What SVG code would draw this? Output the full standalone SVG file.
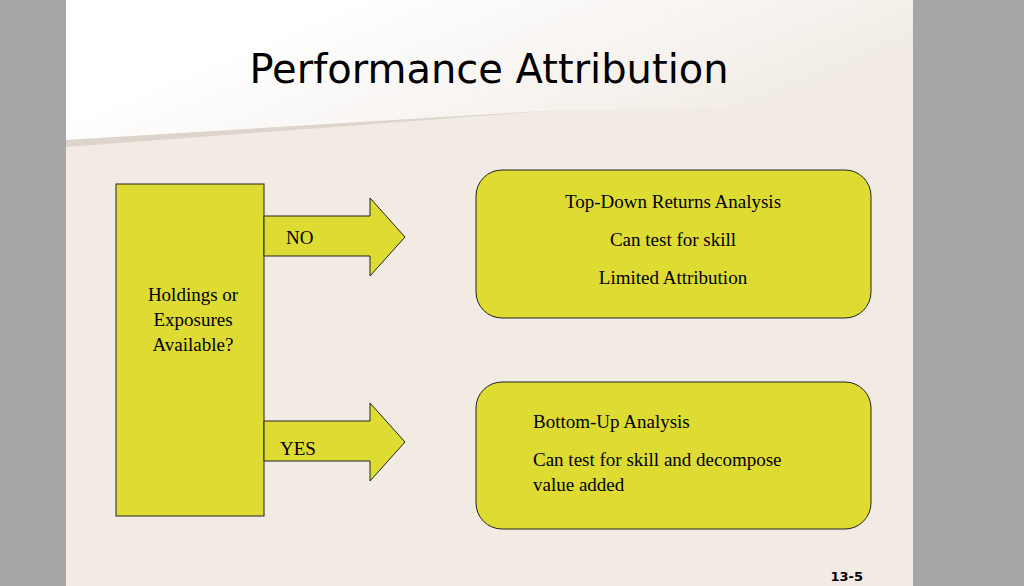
<svg xmlns="http://www.w3.org/2000/svg" width="1024" height="586" viewBox="0 0 1024 586">
<defs>
<linearGradient id="bg" x1="0" y1="0" x2="1" y2="0.4">
<stop offset="0.3" stop-color="#ffffff"/><stop offset="1" stop-color="#f1ebe4"/>
</linearGradient>
<style>
.sh{fill:#dedc32;stroke:#222;stroke-width:1}
.t{font-family:"Liberation Serif",serif;font-size:19px;fill:#000}
</style>
</defs>
<rect width="1024" height="586" fill="#a6a6a6"/>
<rect x="66" y="0" width="847" height="586" fill="#f1ebe4"/>
<path d="M66 0H913V108L560 110L66 140Z" fill="url(#bg)"/>
<path d="M66 140L560 110L66 147Z" fill="#ddd5cc"/>
<text x="489" y="83" text-anchor="middle" font-family="DejaVu Sans,sans-serif" font-size="40" fill="#000">Performance Attribution</text>
<g id="holdings"><rect class="sh" x="116" y="184" width="148" height="332"/>
<text class="t" text-anchor="middle"><tspan x="193" y="301">Holdings or</tspan><tspan x="193" y="326">Exposures</tspan><tspan x="193" y="351">Available?</tspan></text></g>
<g id="connectors">
<g id="no"><path class="sh" d="M264 216H370V198L405 237L370 276V256H264Z"/><text class="t" x="286" y="244">NO</text></g>
<g id="yes"><path class="sh" d="M264 421H370V403L405 442L370 481V461H264Z"/><text class="t" x="280" y="455">YES</text></g>
</g>
<g id="topdown"><rect class="sh" x="476" y="170" width="395" height="148" rx="26"/>
<text class="t" text-anchor="middle"><tspan x="673" y="208">Top-Down Returns Analysis</tspan><tspan x="673" y="246">Can test for skill</tspan><tspan x="673" y="284">Limited Attribution</tspan></text></g>
<g id="bottomup"><rect class="sh" x="476" y="382" width="395" height="147" rx="26"/>
<text class="t"><tspan x="533" y="428">Bottom-Up Analysis</tspan><tspan x="533" y="466">Can test for skill and decompose</tspan><tspan x="533" y="491">value added</tspan></text></g>
<text x="863" y="581" text-anchor="end" font-family="DejaVu Sans,sans-serif" font-weight="bold" font-size="13">13-5</text>
</svg>
